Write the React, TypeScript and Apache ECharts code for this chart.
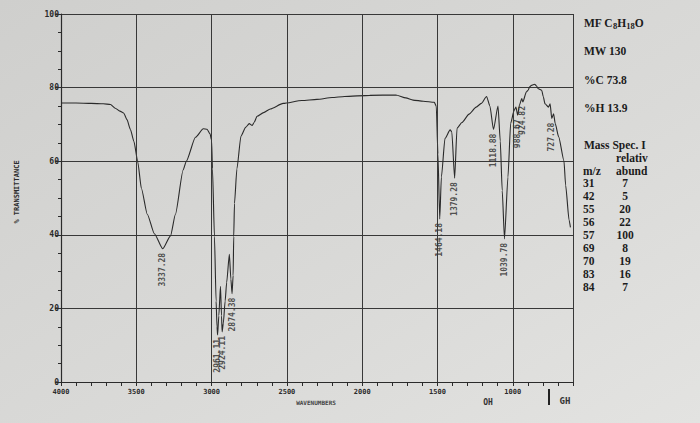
import React, { useEffect, useRef } from "react";
import * as echarts from "echarts";

// IR spectrum (wavenumber cm-1, % transmittance)
const wavenumbers = [
  4000, 3900, 3800, 3720, 3671, 3640, 3609, 3584, 3562, 3539, 3516, 3491, 3466, 3427, 3380, 3324,
  3273, 3240, 3189, 3168, 3107, 3055, 3030, 3011, 3000, 2994, 2981, 2970, 2964, 2960, 2952, 2941,
  2934, 2930, 2922, 2910, 2900, 2882, 2872, 2864, 2857, 2853, 2848, 2832, 2805, 2774, 2750, 2730,
  2718, 2698, 2655, 2610, 2525, 2400, 2300, 2200, 2117, 1950, 1776, 1710, 1662, 1594, 1521, 1508,
  1497, 1485, 1474, 1450, 1416, 1405, 1386, 1370, 1338, 1290, 1243, 1209, 1174, 1152, 1128, 1098,
  1083, 1070, 1055, 1032, 1014, 991, 979, 967, 956, 940, 933, 910, 898, 888, 876, 854, 842, 830,
  808, 797, 786, 763, 752, 741, 729, 718, 695, 660, 649, 626, 617,
];
const transmittance = [
  75.8, 75.8, 75.7, 75.6, 75.4, 74.4, 73.6, 73.1, 71.3, 68.6, 65.4, 60, 52.6, 45.6, 40.3, 36.2,
  39.7, 45.6, 57.6, 60, 66.5, 68.8, 68.7, 67.5, 65.7, 57.9, 39.5, 22, 15, 12.8, 18, 26,
  18, 13.6, 16, 22, 27, 34.7, 28, 24, 29, 39.5, 48.5, 57.9, 66.8, 69.2, 70.2, 69.7,
  70.5, 72.2, 73.2, 74.2, 75.7, 76.5, 76.8, 77.3, 77.6, 77.9, 78, 77.2, 76.6, 76.3, 76, 75,
  62, 44.3, 55.7, 66.2, 68.5, 68, 55.4, 69, 70.5, 72.8, 74.7, 75.7, 77.6, 75, 68.6, 75,
  65.5, 52, 38.9, 55.7, 70.3, 73.8, 74.7, 72.5, 75.2, 77, 76.1, 78.8, 79.3, 80.2, 80.6, 80.9, 80.4, 79.7,
  79.3, 77.5, 75.6, 74.7, 75.6, 71.6, 72.9, 70.2, 66.6, 60.1, 53.5, 44, 42,
];

// annotated peaks
const peakWavenumbers = [3324, 2960, 2930, 2864, 1485, 1386, 1128, 1055, 967, 933, 741];
const peakTransmittance = [36.2, 12.8, 13.6, 24, 44.3, 55.4, 68.6, 38.9, 72.5, 76.1, 71.6];
const peakLabels = [
  "3337.28", "2961.11", "2924.11", "2874.38", "1464.18", "1379.28",
  "1118.88", "1039.78", "988.67", "924.82", "727.28",
];

// axes
const xTickLabels = [4000, 3500, 3000, 2500, 2000, 1500, 1000];
const xGridLines = [3500, 3000, 2500, 2000, 1500, 1000, 600];
const xMin = 600;
const xMax = 4000;
const yTickLabels = [0, 20, 40, 60, 80, 100];

// side information
const formulaInfo = ["MW 130", "%C 73.8", "%H 13.9"];
const massMz = [31, 42, 55, 56, 57, 69, 70, 83, 84];
const massAbund = [7, 5, 20, 22, 100, 8, 19, 16, 7];

const INK = "#2b2b2b";
const MONO = '"DejaVu Sans Mono", monospace';
const SERIF = '"Liberation Serif", "DejaVu Serif", serif';

export default function App() {
  const ref = useRef<HTMLDivElement>(null);

  useEffect(() => {
    if (!ref.current) return;
    const chart = echarts.init(ref.current, undefined, { renderer: "svg" });

    const serifFont = `bold 11.5px ${SERIF}`;
    const graphics: any[] = [
      {
        type: "text",
        x: 17,
        y: 192,
        rotation: Math.PI / 2,
        style: { text: "% TRANSMITTANCE", font: `bold 7px ${MONO}`, fill: INK, align: "center", verticalAlign: "middle" },
      },
      {
        type: "text",
        x: 316,
        y: 402,
        style: { text: "WAVENUMBERS", font: `bold 6px ${MONO}`, fill: "#444", align: "center", verticalAlign: "middle" },
      },
      {
        type: "text",
        x: 488,
        y: 402,
        style: { text: "OH", font: `bold 8px ${MONO}`, fill: "#333", align: "center", verticalAlign: "middle" },
      },
      {
        type: "line",
        shape: { x1: 549, y1: 389, x2: 549, y2: 405 },
        style: { stroke: "#222", lineWidth: 2 },
      },
      {
        type: "text",
        x: 565,
        y: 401,
        style: { text: "GH", font: `bold 9px ${MONO}`, fill: "#333", align: "center", verticalAlign: "middle" },
      },
      {
        type: "text",
        x: 584,
        y: 23,
        style: {
          text: "{a|MF C}{s|8}{a|H}{s|18}{a|O}",
          align: "left",
          verticalAlign: "middle",
          rich: {
            a: { font: serifFont, fill: "#1c1c1c", lineHeight: 14 },
            s: { font: `bold 8.5px ${SERIF}`, fill: "#1c1c1c", lineHeight: 6, verticalAlign: "bottom" },
          },
        },
      },
    ];
    formulaInfo.forEach((t, i) => {
      graphics.push({
        type: "text",
        x: 584,
        y: 51 + i * 28.5,
        style: { text: t, font: serifFont, fill: "#1c1c1c", align: "left", verticalAlign: "middle" },
      });
    });
    graphics.push(
      { type: "text", x: 584, y: 145, style: { text: "Mass Spec. I", font: serifFont, fill: "#1c1c1c", align: "left", verticalAlign: "middle" } },
      { type: "text", x: 616, y: 158, style: { text: "relativ", font: serifFont, fill: "#1c1c1c", align: "left", verticalAlign: "middle" } },
      { type: "text", x: 583, y: 171, style: { text: "m/z", font: serifFont, fill: "#1c1c1c", align: "left", verticalAlign: "middle" } },
      { type: "text", x: 616, y: 171, style: { text: "abund", font: serifFont, fill: "#1c1c1c", align: "left", verticalAlign: "middle" } }
    );
    massMz.forEach((m, i) => {
      graphics.push(
        { type: "text", x: 583, y: 183 + i * 13, style: { text: String(m), font: serifFont, fill: "#1c1c1c", align: "left", verticalAlign: "middle" } },
        { type: "text", x: 625, y: 183 + i * 13, style: { text: String(massAbund[i]), font: serifFont, fill: "#1c1c1c", align: "center", verticalAlign: "middle" } }
      );
    });

    const option: any = {
      animation: false,
      backgroundColor: new echarts.graphic.LinearGradient(0, 0, 1, 1, [
        { offset: 0, color: "#cfcfcd" },
        { offset: 0.6, color: "#dadad8" },
        { offset: 1, color: "#e3e3e1" },
      ]),
      grid: { left: 61, right: 127, top: 14, bottom: 41 },
      xAxis: {
        type: "value",
        min: xMin,
        max: xMax,
        inverse: true,
        interval: 100,
        axisLine: { show: true, lineStyle: { color: INK, width: 1.2 } },
        axisTick: { show: true, length: 4, lineStyle: { color: INK, width: 1 } },
        axisLabel: {
          formatter: (v: number) => (xTickLabels.includes(v) ? String(v) : ""),
          fontFamily: MONO,
          fontWeight: "bold",
          fontSize: 7,
          color: INK,
          margin: 6,
        },
        splitLine: { show: false },
      },
      yAxis: {
        type: "value",
        min: 0,
        max: 100,
        interval: 20,
        axisLine: { show: true, lineStyle: { color: INK, width: 1.2 } },
        axisTick: { show: true, length: 6, lineStyle: { color: INK } },
        minorTick: { show: true, splitNumber: 4, length: 3, lineStyle: { color: INK } },
        axisLabel: {
          formatter: (v: number) => (yTickLabels.includes(v) ? String(v) : ""),
          fontFamily: MONO,
          fontWeight: "bold",
          fontSize: 8,
          color: INK,
          margin: 2,
        },
        splitLine: { show: true, lineStyle: { color: "#383838", width: 1 } },
      },
      series: [
        {
          type: "line",
          data: wavenumbers.map((w, i) => [w, transmittance[i]]),
          showSymbol: false,
          smooth: 0.2,
          smoothMonotone: "x",
          lineStyle: { color: "#2a2a2a", width: 1.1 },
          markLine: {
            silent: true,
            symbol: "none",
            label: { show: false },
            lineStyle: { color: "#383838", width: 1, type: "solid" },
            data: xGridLines.map((w) => ({ xAxis: w })),
          },
          z: 3,
        },
        {
          type: "scatter",
          data: peakWavenumbers.map((w, i) => [w, peakTransmittance[i]]),
          symbolSize: 0.1,
          itemStyle: { color: "rgba(0,0,0,0)" },
          label: {
            show: true,
            formatter: (p: any) => peakLabels[p.dataIndex],
            position: "bottom",
            distance: 4,
            rotate: 90,
            align: "right",
            verticalAlign: "middle",
            fontFamily: MONO,
            fontWeight: "bold",
            fontSize: 8,
            color: INK,
          },
          z: 4,
        },
      ],
      graphic: graphics,
    };

    chart.setOption(option);
    return () => chart.dispose();
  }, []);

  return (
    <div
      ref={ref}
      style={{ position: "fixed", left: 0, top: 0, width: 700, height: 423 }}
    />
  );
}
